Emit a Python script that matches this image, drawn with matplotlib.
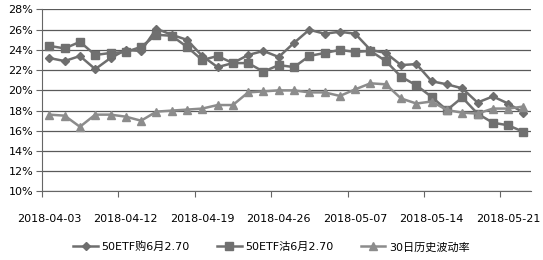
import numpy as np
import matplotlib
matplotlib.use("Agg")
import matplotlib.pyplot as plt
from matplotlib.ticker import FixedLocator, FuncFormatter

plt.rcParams['font.family'] = ['DejaVu Sans', 'Noto Sans CJK SC']

# trading days
dates = ['2018-04-03', '2018-04-04', '2018-04-09', '2018-04-10', '2018-04-11',
         '2018-04-12', '2018-04-13', '2018-04-16', '2018-04-17', '2018-04-18',
         '2018-04-19', '2018-04-20', '2018-04-23', '2018-04-24', '2018-04-25',
         '2018-04-26', '2018-04-27', '2018-05-02', '2018-05-03', '2018-05-04',
         '2018-05-07', '2018-05-08', '2018-05-09', '2018-05-10', '2018-05-11',
         '2018-05-14', '2018-05-15', '2018-05-16', '2018-05-17', '2018-05-18',
         '2018-05-21', '2018-05-22']

# implied vols (%)
call_iv = [23.2, 22.9, 23.4, 22.1, 23.2, 24.0, 23.9, 26.1, 25.5, 25.0,
           23.4, 22.3, 22.7, 23.5, 23.9, 23.3, 24.7, 26.0, 25.6, 25.8,
           25.6, 24.0, 23.7, 22.5, 22.6, 20.9, 20.6, 20.2, 18.8, 19.4,
           18.7, 17.8]
put_iv = [24.4, 24.15, 24.8, 23.5, 23.7, 23.8, 24.3, 25.5, 25.4, 24.3,
          23.0, 23.4, 22.7, 22.7, 21.85, 22.5, 22.3, 23.4, 23.7, 24.0,
          23.8, 23.9, 22.9, 21.35, 20.5, 19.35, 18.05, 19.3, 17.7, 16.8,
          16.55, 15.9]
hist_vol = [17.6, 17.5, 16.4, 17.6, 17.6, 17.4, 17.0, 17.9, 18.0, 18.1,
            18.2, 18.55, 18.55, 19.8, 19.9, 20.0, 20.0, 19.8, 19.8, 19.45,
            20.1, 20.7, 20.6, 19.2, 18.7, 18.9, 18.05, 17.8, 17.7, 18.2,
            18.2, 18.4]

labels = ['50ETF购6月2.70', '50ETF沽6月2.70', '30日历史波动率']

fig = plt.figure(figsize=(5.43, 2.6), dpi=100)
ax = fig.add_axes([0.0768, 0.2635, 0.9012, 0.7])

x = np.arange(len(dates))
ax.plot(x, call_iv, color='#6e6e6e', lw=1.8, marker='D', ms=4, label=labels[0], zorder=3)
ax.plot(x, put_iv, color='#707070', lw=1.8, marker='s', ms=6, label=labels[1], zorder=3)
ax.plot(x, hist_vol, color='#8c8c8c', lw=1.8, marker='^', ms=6, label=labels[2], zorder=3)

ax.set_xlim(-0.5, len(dates) - 0.5)
ax.set_ylim(10, 28)
ax.set_yticks(np.arange(10, 29, 2))
ax.yaxis.set_major_formatter(FuncFormatter(lambda v, p: '%d%%' % v))
ax.grid(axis='y', color='#5a5a5a', lw=0.9)
ax.set_axisbelow(True)

# tick marks between categories, labels on every 5th category
ax.xaxis.set_major_locator(FixedLocator(np.arange(-0.5, 30, 5)))
ax.xaxis.set_minor_locator(FixedLocator(np.arange(0, len(dates), 5)))
ax.set_xticklabels([])
ax.set_xticklabels([dates[i] for i in range(0, len(dates), 5)], minor=True)
ax.tick_params(axis='x', which='major', length=4, color='#666666', direction='out')
ax.tick_params(axis='x', which='minor', length=0, pad=16, labelsize=8)
ax.tick_params(axis='y', length=4, color='#666666', labelsize=8, pad=2)

for s in ['top', 'right']:
    ax.spines[s].set_visible(False)
for s in ['left', 'bottom']:
    ax.spines[s].set_color('#666666')

fig.legend(loc='center', bbox_to_anchor=(0.5, 0.05), ncol=3, frameon=False,
           fontsize=8, handlelength=2.2, columnspacing=2.5, handletextpad=0.3)

fig.savefig('out.png', dpi=100)
